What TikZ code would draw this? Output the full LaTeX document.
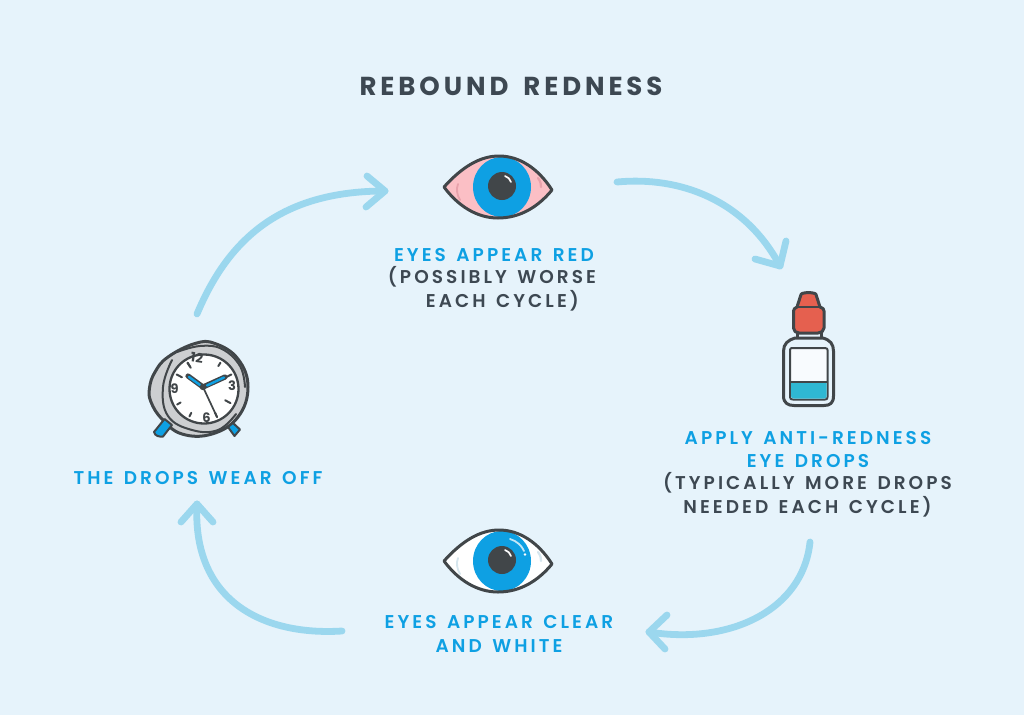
\documentclass[tikz,border=0pt]{standalone}
\usepackage{fontspec}
\setmainfont{Poppins}
\newfontfamily\labfont[LetterSpace=16.5,WordSpace=1.4,BoldFont={Poppins SemiBold}]{Poppins}
\newfontfamily\titfont[LetterSpace=15,WordSpace=1.6]{Poppins}
\usetikzlibrary{calc}
\definecolor{bgc}{HTML}{E6F3FB}
\definecolor{arrowc}{HTML}{9BD7EE}
\definecolor{bluec}{HTML}{0EA0E3}
\definecolor{darkc}{HTML}{3D4852}
\definecolor{linec}{HTML}{414649}
\definecolor{pinkc}{HTML}{FBBFC5}
\definecolor{pinkd}{HTML}{E8A2AB}
\definecolor{redc}{HTML}{E5604F}
\definecolor{tealc}{HTML}{2FB8D3}
\definecolor{greyc}{HTML}{CDCFD1}
\definecolor{palec}{HTML}{D6E6EE}
\tikzset{
  x=1pt,y=-1pt,
  flow/.style={draw=arrowc,line width=6.8pt,line cap=round,line join=round},
  bluetxt/.style={text=bluec,font=\labfont\bfseries\fontsize{18.5}{23.5}\selectfont,align=center,inner sep=0pt},
  darktxt/.style={text=darkc,font=\labfont\bfseries\fontsize{18.5}{23.5}\selectfont,align=center,inner sep=0pt},
  icon/.style={line width=3pt,draw=linec,line join=round,line cap=round},
  thin/.style={line width=1.7pt,draw=linec,line cap=round,line join=round},
  digit/.style={text=linec,font=\fontsize{13}{13}\selectfont\bfseries,inner sep=0pt},
}
\begin{document}
\begin{tikzpicture}
\useasboundingbox (0,0) rectangle (1024,715);
\fill[bgc] (0,0) rectangle (1024,715);

% texts
\node[text=darkc,font=\titfont\bfseries\fontsize{26}{30}\selectfont,inner sep=0pt] (title) at (511,86) {REBOUND REDNESS};
\node[bluetxt] (t1) at (494,255) {EYES APPEAR RED};
\node[darktxt] (t1b) at (492,289) {(POSSIBLY WORSE\\\ \ EACH CYCLE)};
\node[bluetxt] (t2) at (808,449.5) {APPLY ANTI-REDNESS\\EYE DROPS};
\node[darktxt] (t2b) at (807.5,495) {(TYPICALLY MORE DROPS\\NEEDED EACH CYCLE)};
\node[bluetxt] (t3) at (499,634) {EYES APPEAR CLEAR\\AND WHITE};
\node[bluetxt] (t4) at (198,478) {THE DROPS WEAR OFF};

% connectors
\coordinate (a1s) at (197,314); \coordinate (a1e) at (385,191);
\coordinate (a2s) at (617,182); \coordinate (a2e) at (780,266);
\coordinate (a3s) at (810,542); \coordinate (a3e) at (649,632);
\coordinate (a4s) at (342,631); \coordinate (a4e) at (197,504);
\draw[flow] (a1s) .. controls (228,240) and (280,191) .. (a1e);
\draw[flow] (367,176) -- (a1e) -- (366,207);
\draw[flow] (a2s) .. controls (680,176) and (745,200) .. (a2e);
\draw[flow] (786,241) -- (a2e) -- (755,259);
\draw[flow] (a3s) .. controls (803,610) and (730,645) .. (a3e);
\draw[flow] (667,615) -- (a3e) -- (665,649);
\draw[flow] (a4s) .. controls (262,636) and (192,600) .. (a4e);
\draw[flow] (181,522) -- (a4e) -- (213,522);

% red eye
\path[fill=pinkc] (444,187) .. controls (462,167) and (480,156) .. (499,156) .. controls (519,156) and (538,168) .. (552,190) .. controls (538,207) and (520,218) .. (498,218) .. controls (477,218) and (458,206) .. (444,187) -- cycle;
\fill[bluec] (502,187) circle[x radius=29,y radius=30];
\draw[pinkd,line width=1.8pt,line cap=round] (458,184) .. controls (456,189) and (457,195) .. (460,200);
\draw[pinkd,line width=2.2pt,line cap=round] (538,178) .. controls (541,182) and (541,185) .. (541,187);
\fill[linec] (502,186) circle[radius=14];
\draw[white,line width=1.7pt,line cap=round] (505,176) .. controls (508,177) and (510,179) .. (511,182);
\draw[icon] (444,187) .. controls (462,167) and (480,156) .. (499,156) .. controls (519,156) and (538,168) .. (552,190) .. controls (538,207) and (520,218) .. (498,218) .. controls (477,218) and (458,206) .. (444,187) -- cycle;

% clear eye
\begin{scope}[yshift=-374pt]
\path[fill=white] (444,187) .. controls (462,167) and (480,156) .. (499,156) .. controls (519,156) and (538,168) .. (552,190) .. controls (538,207) and (520,218) .. (498,218) .. controls (477,218) and (458,206) .. (444,187) -- cycle;
\fill[bluec] (502,187) circle[x radius=29,y radius=30];
\draw[palec,line width=1.8pt,line cap=round] (458,184) .. controls (456,189) and (457,195) .. (460,200);
\draw[palec,line width=2.2pt,line cap=round] (538,178) .. controls (541,182) and (541,185) .. (541,187);
\fill[linec] (502,186) circle[radius=14];
\draw[white,line width=1.7pt,line cap=round] (505,176) .. controls (508,177) and (510,179) .. (511,182);
\draw[white,line width=1.8pt,line cap=round,opacity=.75] (510,165) .. controls (517,167) and (522,172) .. (524,177);
\fill[white] (525,180.5) circle[radius=1.3];
\draw[icon] (444,187) .. controls (462,167) and (480,156) .. (499,156) .. controls (519,156) and (538,168) .. (552,190) .. controls (538,207) and (520,218) .. (498,218) .. controls (477,218) and (458,206) .. (444,187) -- cycle;
\end{scope}

% bottle
\draw[icon] (797,333) -- (797,338) (821,333) -- (821,338);
\draw[icon,fill=bgc] (795,338) .. controls (788,340) and (783.5,344) .. (783.5,351) -- (783.5,396) .. controls (783.5,403) and (788,405.5) .. (794,405.5) -- (824,405.5) .. controls (830,405.5) and (833.5,403) .. (833.5,396) -- (833.5,351) .. controls (833.5,344) and (830,340) .. (823,338) -- cycle;
\draw[thin,line width=2pt,fill=white!70!bgc] (790,350) .. controls (790,348.5) and (791,348) .. (792,348) -- (825,348) .. controls (827,348) and (827.5,349) .. (827.5,350) -- (827.5,397) .. controls (827.5,399) and (827,399.5) .. (825,399.5) -- (793,399.5) .. controls (791,399.5) and (790,399) .. (790,397) -- cycle;
\path[fill=tealc] (791,382.5) -- (826.5,382.5) -- (826.5,396) .. controls (826.5,398) and (826,398.5) .. (824,398.5) -- (794,398.5) .. controls (792,398.5) and (791,398) .. (791,396) -- cycle;
\draw[thin,line width=2pt] (790.5,382) -- (827,382);
\draw[icon,fill=redc] (797,307) -- (801,294.5) .. controls (802,292) and (815,292) .. (816,294.5) -- (820,307) .. controls (823,308) and (824,309) .. (824,311) -- (824,328) .. controls (824,331) and (821,333) .. (818,333) -- (799,333) .. controls (796,333) and (793.5,331) .. (793.5,328) -- (793.5,311) .. controls (793.5,309) and (795,308) .. (797,307) -- cycle;
\draw[thin,line width=2pt] (797,307) -- (820,307);

% clock
\draw[icon,fill=greyc] plot[smooth cycle,tension=.7] coordinates {(149.5,388) (155,372) (168,357) (195,343.5) (215,343.5) (238,359) (248,387) (238,417) (212,434) (182,434) (162,419) (151,402)};
\draw[icon,line width=2pt,fill=bluec] (154,432) -- (164.5,419) -- (172,425) -- (163,436.5) .. controls (159,437) and (155,436) .. (154,432) -- cycle;
\draw[icon,line width=2pt,fill=bluec] (228,427) -- (233,423) -- (240,429.5) -- (234.5,436) -- cycle;
\draw[thin,line width=2pt] plot[smooth,tension=.7] coordinates {(172,360) (163,387) (168,416) (192,430) (218,430) (236,414)};
\draw[thin,line width=2pt] plot[smooth,tension=.7] coordinates {(177,352) (200,346) (222,349) (240,366) (245,387)};
\fill[white] (204,389) circle[radius=34.5];
\draw[icon,line width=2.3pt] (204,389) circle[radius=34.5];
% ticks
\foreach \a/\p/\q in {65/26/31,28/24/30,-28/26/31,-58/27/31,118/27/31,-122/25/31,150/27/31,208/25/31,238/27/31}{
  \draw[thin,line width=2pt] ($(204,389)+(\a:\p pt and -\p pt)$) -- ($(204,389)+(\a:\q pt and -\q pt)$);
}
\node[digit,rotate=-8] (n12) at (197,358) {12};
\node[digit] (n3) at (232,386) {3};
\node[digit] (n6) at (206.5,418) {6};
\node[digit] (n9) at (174.5,389) {9};
% hands
\draw[linec,line width=5.2pt,line cap=round] (203,387) -- (188,376);
\draw[linec,line width=5.2pt,line cap=round] (203,387) -- (225,377);
\draw[bluec,line width=2.4pt,line cap=round] (200,385) -- (189,377);
\draw[bluec,line width=2.4pt,line cap=round] (207,385.5) -- (224,377.5);
\draw[thin] (203,387) -- (217,417);
\fill[linec] (203,387) circle[radius=3.2];
\end{tikzpicture}
\end{document}
